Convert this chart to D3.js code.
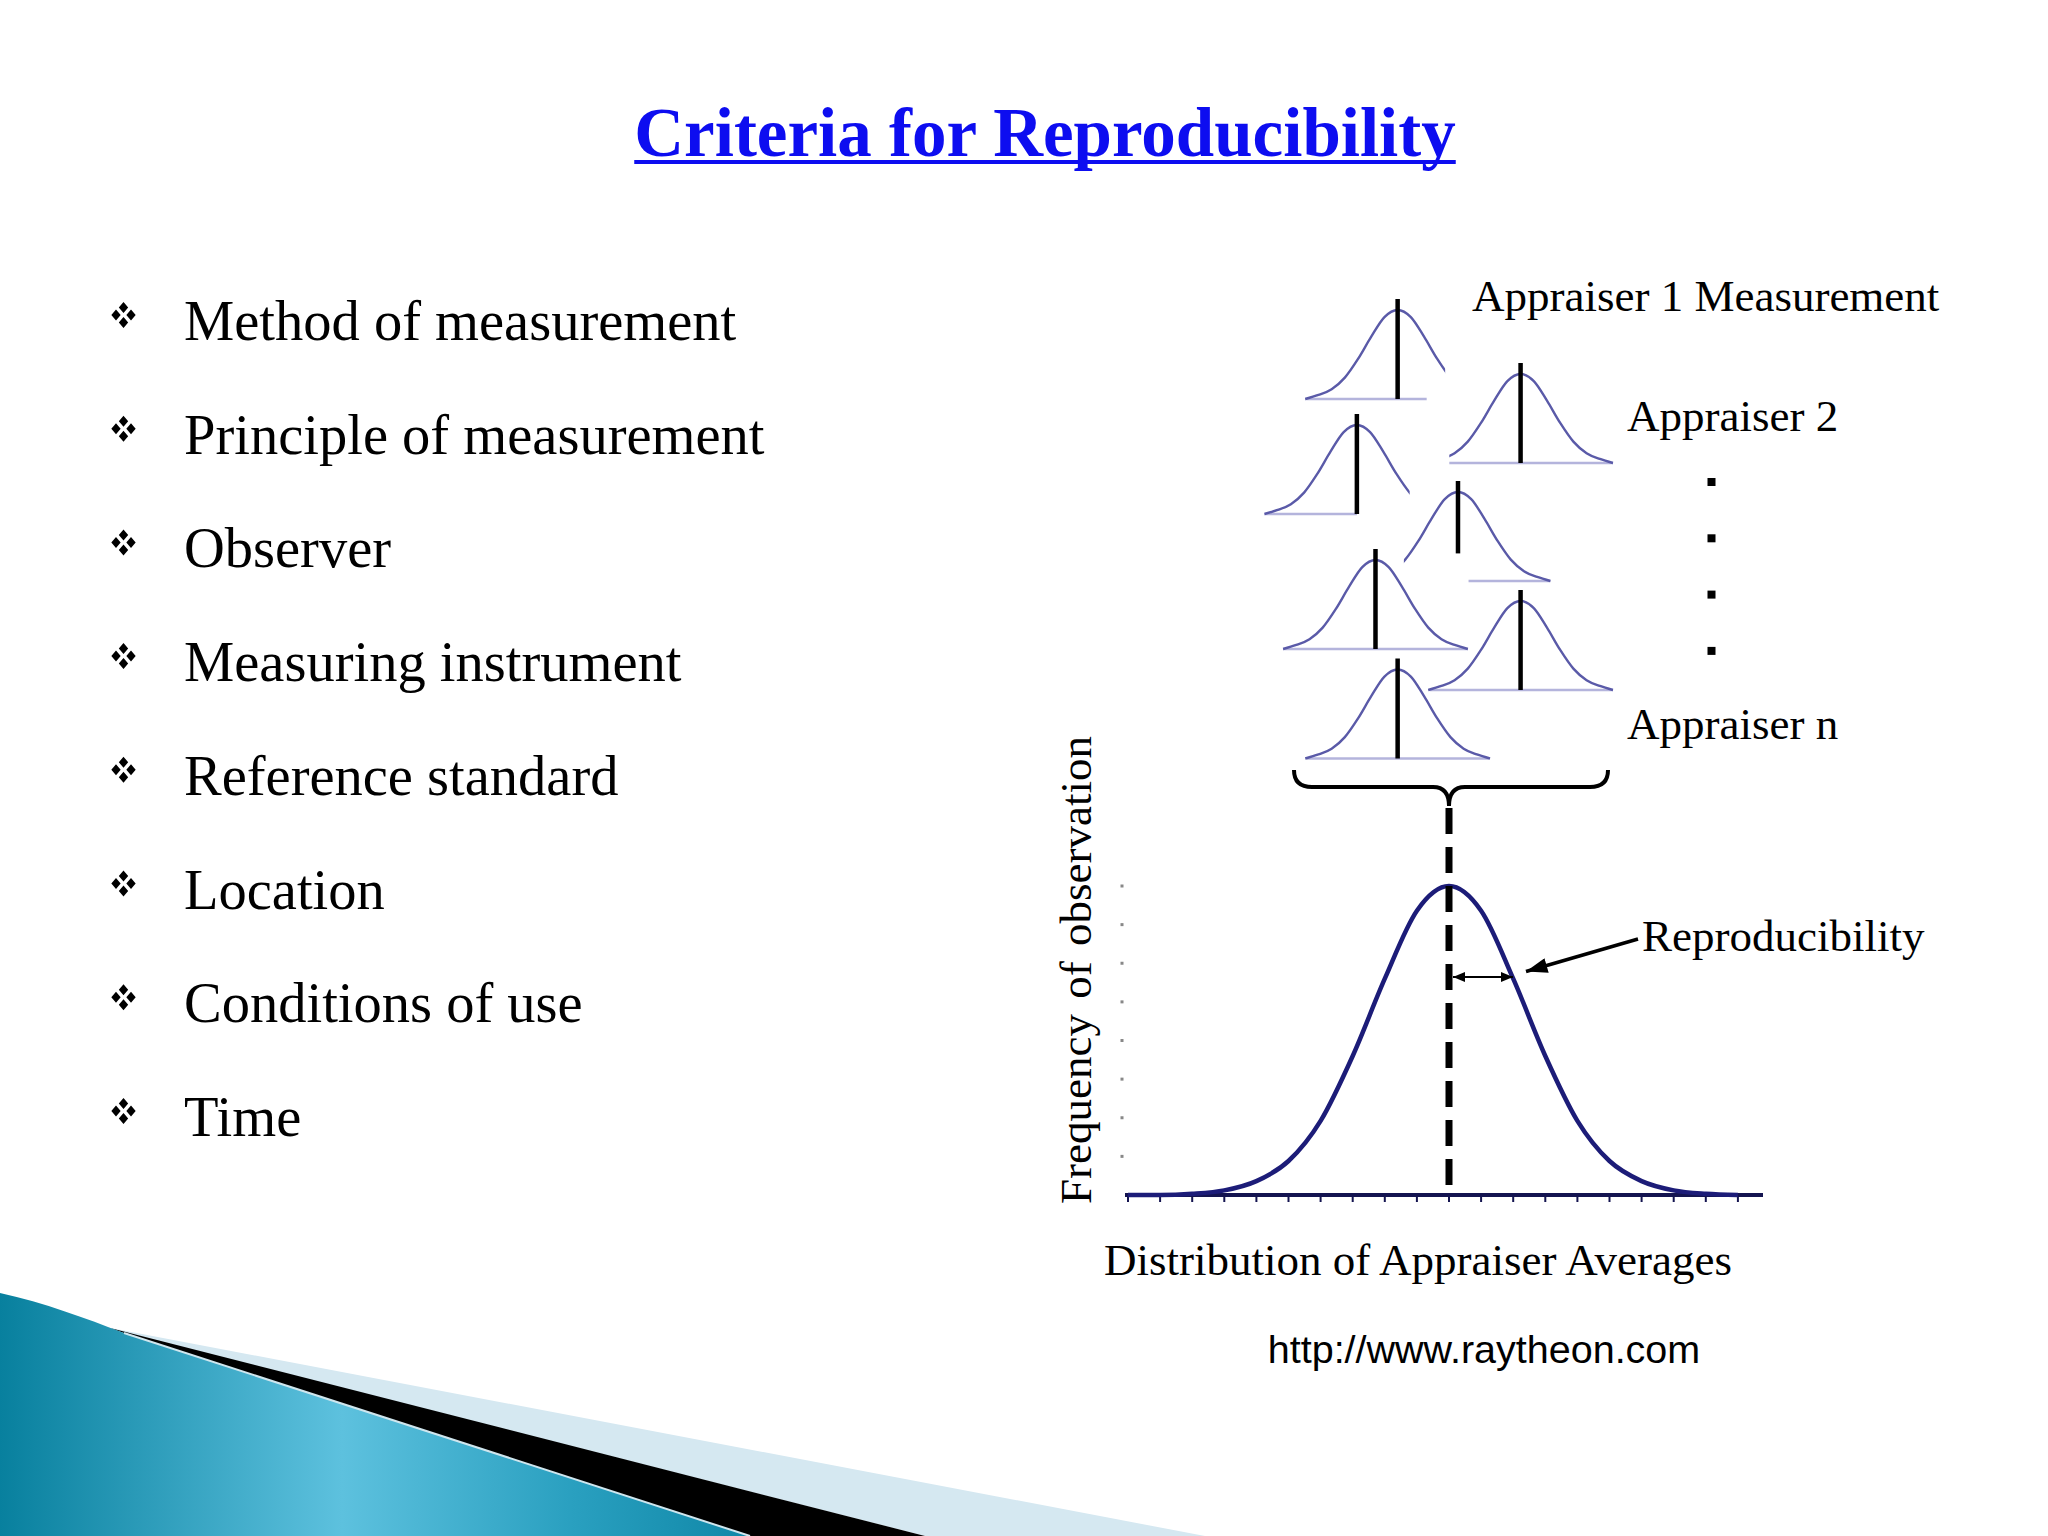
<!DOCTYPE html>
<html><head><meta charset="utf-8">
<script src="https://cdn.jsdelivr.net/npm/d3@7"></script>
<style>html,body{margin:0;padding:0;background:#fff;} svg{display:block}</style>
</head><body>
<script>
// ---------- data ----------
const titleText = "Criteria for Reproducibility";
const bulletItems = ["Method of measurement","Principle of measurement","Observer","Measuring instrument","Reference standard","Location","Conditions of use","Time"];
const tickUnits = [-10,-9,-8,-7,-6,-5,-4,-3,-2,-1,0,1,2,3,4,5,6,7,8,9];
const mainFreq  = [0,0,0.004,0.015,0.045,0.11,0.24,0.45,0.70,0.92,1.0,0.92,0.70,0.45,0.24,0.11,0.045,0.015,0.004,0];
const freqLevels = [0.125,0.25,0.375,0.5,0.625,0.75,0.875,1.0];
const bellUnits   = [-7,-6,-5,-4,-3,-2,-1,0,1,2,3,4,5,6,7];
const bellProfile = [0,0.045,0.11,0.24,0.45,0.70,0.92,1.0,0.92,0.70,0.45,0.24,0.11,0.045,0];
const bellMeans     = [-1.60, 2.23, -2.87, 0.28, -2.29, 2.23, -1.60];
const bellLeftCut   = [-7, -5.4, -7, -4.1, -7, -6.9, -7];
const bellRightCut  = [3.6, 7, 4, 7, 7, 7, 7];
const bellBaseFrom  = [-7, -5.4, -7, 0.8, -7, -6.9, -6.9];
const bellBaseTo    = [2.2, 7, 0, 7, 7, 7, 6.9];
const bellStemFloor = [0, 0, 0, 0.31, 0, 0, 0];
const appraiserLabels = ["Appraiser 1 Measurement","Appraiser 2","Appraiser n"];
const yLabel = "Frequency of observation";
const xLabel = "Distribution of Appraiser Averages";
const sourceText = "http://www.raytheon.com";
const annotation = "Reproducibility";

// ---------- layout ----------
const W = 2048, H = 1536;
const bellBaseY = [399, 463, 514, 581, 649, 690, 758.5];
const serif = "'Liberation Serif','Times New Roman',serif";

const svg = d3.select("body").append("svg").attr("width", W).attr("height", H);
svg.append("rect").attr("width", W).attr("height", H).attr("fill", "#fff");
const defs = svg.append("defs");

// ---------- decoration ----------
const tg = defs.append("linearGradient").attr("id","teal").attr("gradientUnits","userSpaceOnUse")
  .attr("x1",0).attr("y1",0).attr("x2",760).attr("y2",0);
[[0,"#08809e"],[0.45,"#5dc1de"],[0.75,"#2aa0c0"],[1,"#0e86a6"]].forEach(s=>tg.append("stop").attr("offset",s[0]).attr("stop-color",s[1]));
svg.append("path").attr("d","M100,1326 L1205,1536 L925,1536 L124,1333 Z").attr("fill","#d5e8f1");
svg.append("path").attr("d","M110,1328 L925,1536 L750,1536 L124,1333 Z").attr("fill","#000");
svg.append("path").attr("d","M0,1293 C45,1303 85,1318 124,1333 L750,1536 L0,1536 Z").attr("fill","url(#teal)");
svg.append("path").attr("d","M124,1333 L750,1536").attr("stroke","#cfe6ee").attr("stroke-width",2);

// ---------- title ----------
const title = svg.append("text").attr("x",1045).attr("y",156).attr("text-anchor","middle")
  .attr("font-family",serif).attr("font-weight","bold").attr("font-size",69).attr("fill","#0d0df0").text(titleText);
const tw = title.node().getComputedTextLength();
svg.append("line").attr("x1",1045-tw/2).attr("x2",1045+tw/2).attr("y1",162).attr("y2",162)
  .attr("stroke","#0d0df0").attr("stroke-width",4);

// ---------- bullets ----------
const rowY = d3.scaleLinear().domain([0,1]).range([340, 453.7]);
const diamond = (cx,cy,r)=>`M${cx},${cy-r} L${cx+r*0.85},${cy} L${cx},${cy+r} L${cx-r*0.85},${cy} Z`;
bulletItems.forEach((t,i)=>{
  const y = rowY(i);
  const cx = 123.5, cy = y-25;
  const d = [[0,-7.5],[-7.5,0],[7.5,0],[0,7.5]].map(o=>diamond(cx+o[0],cy+o[1],5.5)).join(" ");
  svg.append("path").attr("d",d).attr("fill","#000");
  svg.append("text").attr("x",184).attr("y",y).attr("font-family",serif).attr("font-size",56.5).attr("fill","#000").text(t);
});

// ---------- main distribution ----------
const x = d3.scaleLinear().domain([-10,9]).range([1128,1737.9]);
const y = d3.scaleLinear().domain([0,1]).range([1195,886]);
const axisCol = "#141450";

svg.selectAll(".ydot").data(freqLevels).join("rect")
  .attr("x",1120.5).attr("y",d=>y(d)-1.5).attr("width",3).attr("height",3).attr("fill","#888");
svg.append("line").attr("x1",1125).attr("x2",1763).attr("y1",y(0)).attr("y2",y(0))
  .attr("stroke",axisCol).attr("stroke-width",4);
svg.selectAll(".xt").data(tickUnits).join("line")
  .attr("x1",d=>x(d)).attr("x2",d=>x(d)).attr("y1",y(0)).attr("y2",y(0)+7)
  .attr("stroke",axisCol).attr("stroke-width",2);

const mainLine = d3.line().x((d,i)=>x(tickUnits[i])).y(d=>y(d)).curve(d3.curveMonotoneX);
svg.append("path").attr("d",mainLine(mainFreq)).attr("fill","none").attr("stroke","#1c1c78").attr("stroke-width",4.5);

// dashed mean line
svg.append("line").attr("x1",x(0)).attr("x2",x(0)).attr("y1",808).attr("y2",y(0))
  .attr("stroke","#000").attr("stroke-width",7).attr("stroke-dasharray","26,13");

// brace
const bl = 1294, br = 1608, bc = x(0), bt = 770, bb = 787, bp = 806;
svg.append("path").attr("d",
  `M${bl},${bt} Q${bl},${bb} ${bl+18},${bb} L${bc-16},${bb} Q${bc},${bb} ${bc},${bp} Q${bc},${bb} ${bc+16},${bb} L${br-18},${bb} Q${br},${bb} ${br},${bt}`)
  .attr("fill","none").attr("stroke","#000").attr("stroke-width",4);

// arrows
const m1 = defs.append("marker").attr("id","bigHead").attr("markerUnits","userSpaceOnUse")
  .attr("viewBox","0 0 20 14").attr("refX",20).attr("refY",7).attr("markerWidth",22).attr("markerHeight",15).attr("orient","auto");
m1.append("path").attr("d","M0,0 L20,7 L0,14 Z").attr("fill","#000");
const m2 = defs.append("marker").attr("id","smallHead").attr("markerUnits","userSpaceOnUse")
  .attr("viewBox","0 0 12 10").attr("refX",12).attr("refY",5).attr("markerWidth",12).attr("markerHeight",10).attr("orient","auto-start-reverse");
m2.append("path").attr("d","M0,0 L12,5 L0,10 Z").attr("fill","#000");
svg.append("line").attr("x1",1638).attr("y1",939).attr("x2",1526).attr("y2",971.5)
  .attr("stroke","#000").attr("stroke-width",3.5).attr("marker-end","url(#bigHead)");
svg.append("line").attr("x1",x(0)+4).attr("x2",1513).attr("y1",977).attr("y2",977)
  .attr("stroke","#000").attr("stroke-width",2).attr("marker-start","url(#smallHead)").attr("marker-end","url(#smallHead)");

// ---------- appraiser bells ----------
const bx = d3.scaleLinear().domain([-7,7]).range([-92.4,92.4]);
const bh = d3.scaleLinear().domain([0,1]).range([0,89]);
bellMeans.forEach((m,i)=>{
  const cx = x(m), base = bellBaseY[i];
  const g = svg.append("g");
  const cid = "clip"+i;
  defs.append("clipPath").attr("id",cid).append("rect")
    .attr("x",cx+bx(bellLeftCut[i])-(bellLeftCut[i]<=-6.9?4:0))
    .attr("width",bx(bellRightCut[i])-bx(bellLeftCut[i])+(bellLeftCut[i]<=-6.9?4:0)+(bellRightCut[i]>=7?4:0))
    .attr("y",base-120).attr("height",130);
  g.append("line").attr("x1",cx+bx(bellBaseFrom[i])).attr("x2",cx+bx(bellBaseTo[i])).attr("y1",base).attr("y2",base)
    .attr("stroke","#b4b4dc").attr("stroke-width",2.5);
  const ln = d3.line().x((d,j)=>cx+bx(bellUnits[j])).y(d=>base-bh(d)).curve(d3.curveMonotoneX);
  g.append("path").attr("d",ln(bellProfile)).attr("fill","none").attr("stroke","#5a5aa8").attr("stroke-width",2.4)
    .attr("clip-path",`url(#${cid})`);
  g.append("line").attr("x1",cx).attr("x2",cx).attr("y1",base-bh(1)-11).attr("y2",base-bh(bellStemFloor[i]))
    .attr("stroke","#000").attr("stroke-width",4.5);
});

// vertical dots
svg.selectAll(".vdot").data([0,1,2,3]).join("rect")
  .attr("x",1707.5).attr("y",d=>478+d*56.3).attr("width",8).attr("height",8).attr("fill","#000");

// ---------- texts ----------
const lab = (t,xx,yy,size,fam,anchor)=>svg.append("text").attr("x",xx).attr("y",yy).attr("font-family",fam||serif)
  .attr("font-size",size).attr("text-anchor",anchor||"start").attr("fill","#000").text(t);
lab(appraiserLabels[0],1472,311,45);
lab(appraiserLabels[1],1627,431,45);
lab(appraiserLabels[2],1627,739,45);
lab(annotation,1642,951,45);
lab(xLabel,1418,1275,45,serif,"middle");
lab(sourceText,1484,1363,39.5,"'Liberation Sans',Arial,sans-serif","middle");
svg.append("text").attr("transform","translate(1091,970) rotate(-90)").attr("text-anchor","middle")
  .attr("font-family",serif).attr("font-size",45).attr("word-spacing",4).attr("fill","#000").text(yLabel);
</script>
</body></html>
